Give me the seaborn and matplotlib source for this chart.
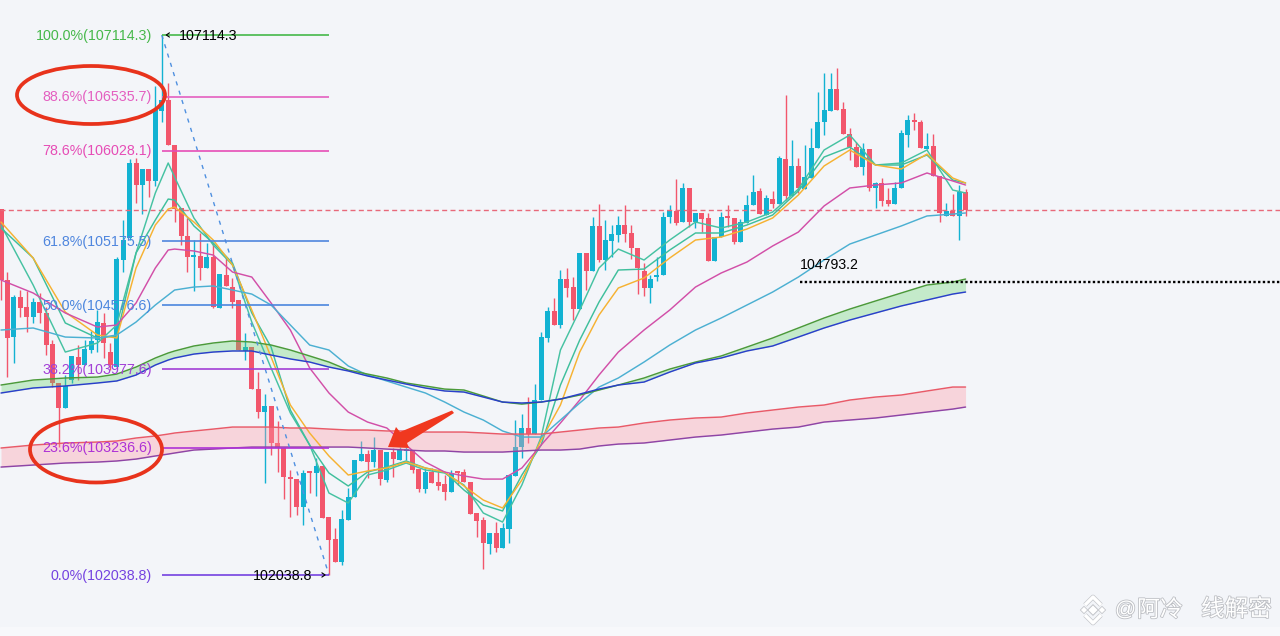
import pandas as pd
import numpy as np
import matplotlib
matplotlib.use('Agg')
import matplotlib.pyplot as plt
import matplotlib.patheffects as pe
from matplotlib.patches import Ellipse, Polygon, Rectangle
from matplotlib.transforms import Affine2D
import seaborn as sns

# candles (one entry per bar, left to right)
opens = [105478,104811,104275,104651,104557,104463,104604,104501,104209,103843,103608,103871,104087,104012,104153,104247,104407,104134,103993,104999,
         105206,105911,105704,105854,105742,106400,106503,106080,105488,105225,105027,105037,104924,105027,104548,104858,104745,104623,104144,104181,
         103786,103570,103627,103279,103232,102959,102940,102677,103006,102997,103063,102583,102376,102160,102555,102771,103110,103175,103100,103213,
         102931,103194,103119,103204,103213,103034,102847,103006,102912,102893,102818,103016,103006,102912,102621,102555,102330,102433,102292,102470,
         102969,103241,103420,103363,103683,104266,104520,104388,104820,104745,104538,105065,104896,105319,104999,105178,105234,105328,105253,105112,
         104896,104736,104839,104858,105403,105460,105356,105676,105356,105441,105394,104990,105215,105403,105394,105168,105347,105516,105648,105422,
         105572,105525,105948,105601,105883,105666,105770,106052,106296,106400,106606,106418,106183,106061,105873,106042,105676,105723,105563,105525,
         105676,106174,106306,106296,106042,106071,105789,105413,105460,105413,105638]
closes = [104811,104266,104651,104548,104463,104604,104501,104200,103843,103608,103815,104097,104012,104162,104238,104416,104219,104012,105008,105187,
          105911,105704,105854,105742,106409,106503,106080,105478,105225,105027,105046,104924,105027,104557,104867,104755,104604,104153,104181,103786,
          103570,103627,103279,103232,102959,102940,102677,102997,102997,103063,102574,102367,102160,102564,102771,103119,103175,103100,103213,102940,
          103194,103128,103213,103213,103025,102847,103006,102903,102875,102818,102997,102997,102912,102611,102546,102339,102433,102292,102480,102978,
          103241,103420,103363,103683,104275,104520,104388,104820,104736,104538,105065,104896,105319,104999,105187,105243,105328,105243,105112,104924,
          104736,104820,104858,105403,105469,105347,105676,105356,105441,105384,104990,105215,105403,105394,105168,105356,105516,105638,105431,105582,
          105525,105958,105601,105883,105676,105779,106052,106296,106409,106606,106409,106183,106061,105873,106042,105676,105723,105554,105525,105676,
          106193,106315,106296,106052,106071,105789,105441,105460,105413,105638,105469]
highs = [105478,104886,104670,104717,104708,104642,104689,104557,104247,103843,103918,104097,104200,104247,104332,104529,104501,104219,105027,105375,
         105948,105958,105854,105854,106635,107114,106663,106080,105488,105394,105187,105253,105159,105159,104867,105027,104830,104623,104313,104181,
         103946,103739,103627,103486,103232,103025,102940,103025,103006,103138,103063,102583,102480,102649,102856,103119,103298,103213,103335,103213,
         103194,103232,103241,103241,103213,103034,103044,103044,103034,102978,103025,103016,103034,102912,102621,102583,102433,102536,102527,102978,
         103495,103551,103711,103833,104322,104557,104642,104905,104924,104839,105065,105065,105403,105525,105375,105328,105413,105516,105328,105112,
         104971,104858,105027,105450,105516,105760,105723,105676,105441,105441,105441,105215,105450,105516,105394,105384,105610,105798,105676,105610,
         105648,105977,106550,106127,105958,106080,106240,106578,106757,106757,106804,106484,106240,106108,106099,106042,105732,105770,105676,105732,
         106221,106362,106381,106315,106193,106183,105789,105535,105619,105704,105666]
lows = [104623,103899,104031,104463,104322,104407,104407,104106,103805,103241,103608,103843,103871,104012,104125,104134,104078,103965,103993,104886,
        105187,105535,105431,105591,105695,106296,106080,105356,105140,104886,104708,104811,104924,104548,104548,104755,104548,104153,104059,103786,
        103514,102903,103166,103006,102752,102583,102602,102508,102809,102781,102574,102039,102160,102132,102555,102771,103110,102950,103053,102884,
        102912,102959,103119,103119,102997,102818,102809,102903,102837,102743,102818,102884,102912,102611,102395,102094,102236,102254,102292,102339,
        102969,103138,103279,103363,103683,104228,104388,104360,104651,104435,104538,104717,104896,104980,104905,105027,105168,105168,105008,104679,
        104661,104595,104802,104858,105347,105328,105356,105309,105300,105262,104990,104990,105215,105309,105149,105168,105347,105516,105431,105422,
        105488,105525,105563,105601,105629,105666,105770,106052,106174,106400,106409,106183,105939,105873,105798,105648,105488,105507,105507,105525,
        105676,106061,106221,106052,106042,105789,105356,105413,105413,105187,105413]

# moving averages, sampled at these bar numbers
ma_bars = [0,5,10,15,18,21,24,26,27,30,33,36,39,42,45,48,51,54,57,60,63,66,69,72,75,78,81,84,87,90,93,96,100,104,108,112,116,120,124,128,132,136,140,144,148,150]
ma_fast = [105328,104764,104134,104219,104388,105065,105629,105911,105779,105394,105140,104952,104416,103984,103561,103260,102809,102715,102978,103025,
           103091,103025,102997,102884,102621,102536,102884,103335,104153,104529,104924,105102,104999,105187,105356,105300,105356,105450,105666,106033,
           106174,105892,105911,106033,105657,105629]
ma_mid = [105300,105018,104407,104266,104285,105065,105375,105572,105563,105319,105159,104971,104501,104181,103589,103260,102997,102875,103006,103053,
          103110,103044,103006,102837,102696,102640,102978,103260,103824,104247,104604,104905,104914,105093,105253,105253,105328,105422,105648,105967,
          106061,105892,105892,105986,105751,105723]
ma_slow = [105356,105018,104510,104294,104266,104924,105328,105478,105497,105356,105187,104952,104529,104087,103636,103373,103157,102978,103016,103044,
           103100,103044,103006,102875,102743,102668,102931,103307,103636,104134,104482,104736,104830,105018,105187,105215,105290,105394,105610,105883,
           106033,105892,105854,105995,105770,105723]
ma_pink = [104811,104689,104501,104369,104388,104595,104924,105093,105102,105084,105046,104886,104839,104595,104341,103984,103749,103570,103476,103420,
           103260,103100,103006,102969,102940,102940,103044,103260,103467,103683,103918,104134,104341,104529,104745,104877,104980,105131,105262,105507,
           105676,105704,105723,105817,105742,105704]
ma_cyan = [104341,104360,104275,104266,104294,104416,104576,104670,104717,104745,104755,104717,104679,104576,104388,104200,104153,104003,103918,103862,
           103805,103749,103664,103570,103495,103392,103335,103335,103495,103655,103805,103890,104040,104200,104341,104454,104576,104698,104839,104999,
           105149,105234,105319,105413,105431,105441]
band1_top = [103824,103871,103890,103899,103927,103993,104078,104125,104144,104191,104219,104238,104228,104200,104153,104097,104040,103965,103927,103890,
             103843,103815,103786,103777,103721,103664,103645,103664,103692,103730,103777,103824,103890,103974,104040,104097,104181,104266,104360,104454,
             104538,104614,104689,104764,104792,104820]
band1_low = [103749,103796,103815,103843,103862,103918,104012,104059,104078,104115,104134,104144,104144,104106,104069,104040,103993,103956,103909,103871,
             103833,103796,103768,103758,103711,103664,103655,103664,103692,103739,103786,103824,103852,103946,104031,104078,104144,104191,104275,104360,
             104435,104501,104567,104623,104679,104698]
band2_top = [103232,103260,103279,103288,103298,103326,103345,103363,103373,103392,103410,103429,103429,103429,103420,103420,103410,103401,103401,103392,
             103392,103382,103382,103382,103373,103363,103363,103363,103382,103401,103420,103429,103467,103495,103514,103523,103561,103589,103617,103636,
             103683,103711,103730,103768,103805,103805]
band2_low = [103053,103072,103091,103100,103110,103128,103157,103175,103185,103213,103222,103232,103241,103241,103241,103241,103241,103241,103232,103222,
             103213,103204,103204,103194,103194,103194,103204,103213,103213,103222,103251,103269,103279,103307,103335,103354,103382,103410,103429,103476,
             103495,103514,103542,103570,103598,103617]

# fibonacci levels
fib_pct = ['100.0%', '88.6%', '78.6%', '61.8%', '50.0%', '38.2%', '23.6%', '0.0%']
fib_price = [107114.3, 106535.7, 106028.1, 105175.5, 104576.6, 103977.6, 103236.6, 102038.8]
fib_col = ['#46B84A', '#E45FC0', '#E64DB6', '#4F86DE', '#4A86DE', '#A23FD6', '#AE32D6', '#7442E0']
last_price = 105469
support = 104793.2

BG = '#F3F5F9'
UP = '#12B2D2'
DOWN = '#F2566C'

sns.set_theme(style='white', rc={'figure.facecolor': BG, 'axes.facecolor': BG})
plt.rcParams['font.family'] = ['Liberation Sans', 'Noto Sans CJK SC', 'DejaVu Sans']

fig = plt.figure(figsize=(12.8, 6.36), dpi=100)
ax = fig.add_axes([0, 0, 1, 1])
ax.set_xlim(-0.156, 198.9)
ax.set_ylim(101465, 107443)
ax.axis('off')

# pixel transform for the hand drawn marks (ellipses, arrow, logo)
pix = Affine2D().scale(1, -1).translate(0, 636)

# lighter strip at the bottom of the screenshot
fig.patches.append(Rectangle((0, 0), 1, 9 / 636, transform=fig.transFigure, color='#F7F8FB', zorder=0))

candles = pd.DataFrame({'open': opens, 'close': closes, 'high': highs, 'low': lows})
candles['bar'] = candles.index
candles['col'] = np.where(candles['close'] >= candles['open'], UP, DOWN)

ax.vlines(candles['bar'], candles['low'], candles['high'], colors=candles['col'], lw=1.0, zorder=2)
body = (candles['close'] - candles['open']).abs().clip(lower=15)
ax.bar(candles['bar'], body, bottom=candles[['open', 'close']].min(axis=1), width=0.78,
       color=candles['col'], lw=0, zorder=2)

# bands go over the candles, they are see through
ax.fill_between(ma_bars, band1_low, band1_top, color='#62D468', alpha=0.32, lw=0, zorder=3)
ax.fill_between(ma_bars, band2_low, band2_top, color='#FF9BA7', alpha=0.36, lw=0, zorder=3)

ma = pd.DataFrame({'bar': ma_bars, 'fast': ma_fast, 'mid': ma_mid, 'slow': ma_slow, 'pink': ma_pink, 'cyan': ma_cyan,
                   'b1top': band1_top, 'b1low': band1_low, 'b2top': band2_top, 'b2low': band2_low})
long_ma = ma.melt(id_vars='bar', var_name='line', value_name='price')
palette = {'fast': '#46C2A2', 'mid': '#3FBF9C', 'slow': '#F6B232', 'pink': '#D24FA8', 'cyan': '#4CB0D2',
           'b1top': '#4B9A3A', 'b1low': '#2A3FCB', 'b2top': '#E95A68', 'b2low': '#8E45A6'}
sns.lineplot(data=long_ma, x='bar', y='price', hue='line', palette=palette, estimator=None,
             legend=False, lw=1.05, ax=ax, zorder=4)
ax.set_xlim(-0.156, 198.9)
ax.set_ylim(101465, 107443)

# current price and support
ax.axhline(last_price, color='#E8697A', lw=1.0, dashes=(3.6, 2.4), zorder=3)
ax.hlines(support, 124.3, 199, color='black', lw=1.7, linestyles=(0, (1, 1)), zorder=5)
ax.text(124.3, support + 95, '104793.2', fontsize=10.2, color='black', ha='left', va='bottom', zorder=6)

# fibonacci drawing
ax.plot([25, 51], [fib_price[0], fib_price[-1]], color='#4F90E0', lw=1.0, dashes=(3, 4), zorder=5)
for pct, price, col in zip(fib_pct, fib_price, fib_col):
    ax.hlines(price, 25, 51, color=col, lw=1.2, zorder=5)
    ax.text(23.45, price - 8, f'{pct}({price})', color=col, fontsize=10.25, ha='right', va='center', zorder=6)
ax.text(27.7, fib_price[0] - 8, '107114.3', fontsize=10.25, color='black', ha='left', va='center', zorder=6)
ax.text(39.1, fib_price[-1] - 8, '102038.8', fontsize=10.25, color='black', ha='left', va='center', zorder=6)
ax.plot([26.2, 25.7, 26.2], [fib_price[0] + 20, fib_price[0], fib_price[0] - 20], color='black', lw=0.8, zorder=6)
ax.plot([49.9, 50.4, 49.9], [fib_price[-1] + 20, fib_price[-1], fib_price[-1] - 20], color='black', lw=0.8, zorder=6)

# red marks on top of the screenshot
ax.add_patch(Ellipse((91, 95), 148, 58, transform=pix, fill=False, ec='#E8331C', lw=2.7, zorder=7))
ax.add_patch(Ellipse((96, 449.5), 132, 66, transform=pix, fill=False, ec='#E8331C', lw=2.7, zorder=7))
ax.add_patch(Polygon([(452, 410.5), (454, 413), (407, 443), (409, 448), (388, 447), (396, 427), (400, 432)],
                     transform=pix, color='#F0381F', lw=0, zorder=7))

# watermark
soft = [pe.withStroke(linewidth=1.2, foreground='#BDBFC4')]
ax.text(1115, 610, '@', transform=pix, fontsize=15, color='white', va='center', ha='left', path_effects=soft, zorder=8)
ax.text(1137, 610, '阿冷', transform=pix, fontsize=16.5, color='white', va='center', ha='left', path_effects=soft, zorder=8)
ax.text(1201, 610, '线解密', transform=pix, fontsize=17, color='white', va='center', ha='left', path_effects=soft, zorder=8)
logo_x = [1093, 1084, 1102, 1093]
logo_y = [610, 610, 610, 610]
ax.scatter(logo_x, logo_y, marker='D', s=[28, 14, 14, 28], c='white', edgecolors='#C4C6CB', linewidths=0.6,
           transform=pix, zorder=8)
for pts in ([(1085, 605), (1093, 597), (1101, 605)], [(1085, 615), (1093, 623), (1101, 615)]):
    ax.plot(*zip(*pts), transform=pix, color='#C4C6CB', lw=3.4, solid_capstyle='butt', zorder=8)
    ax.plot(*zip(*pts), transform=pix, color='white', lw=2.4, solid_capstyle='butt', zorder=8)

fig.savefig('out.png', dpi=100, facecolor=BG)
